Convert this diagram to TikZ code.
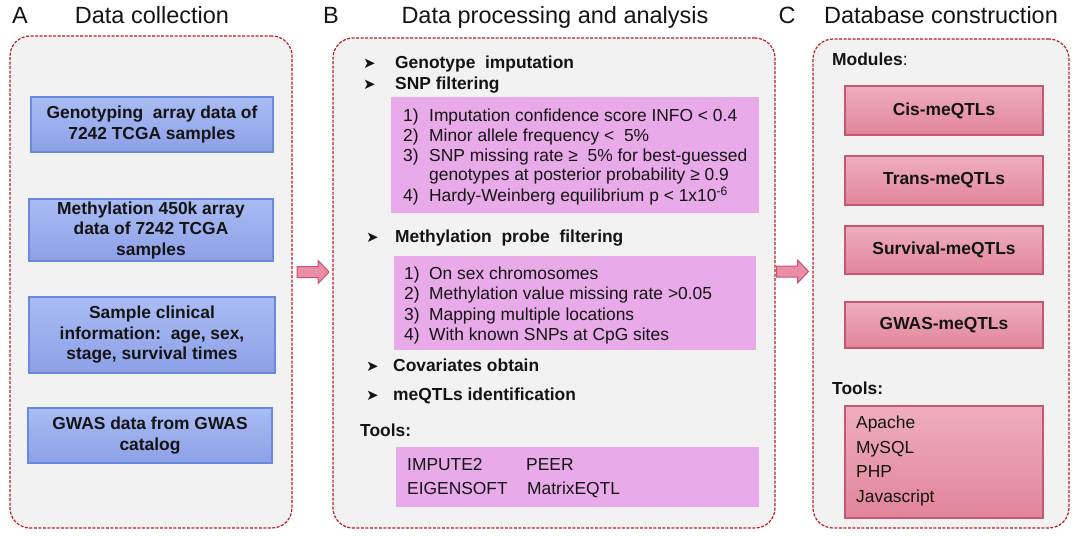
\documentclass[tikz,border=0pt]{standalone}
\usepackage{fontspec}
\setmainfont{Liberation Sans}
\newfontfamily\dvsans{DejaVu Sans}
\definecolor{panelfill}{RGB}{242,242,242}
\definecolor{paneldraw}{RGB}{185,30,40}
\definecolor{bluetop}{RGB}{170,188,243}
\definecolor{bluebot}{RGB}{140,160,232}
\definecolor{blueline}{RGB}{105,138,220}
\definecolor{orchid}{RGB}{232,170,232}
\definecolor{modtop}{RGB}{238,174,190}
\definecolor{modbot}{RGB}{226,132,154}
\definecolor{modline}{RGB}{196,88,116}
\definecolor{arrfill}{RGB}{234,142,166}
\definecolor{arrline}{RGB}{200,80,110}
\definecolor{txtc}{RGB}{20,20,20}
\newcommand\bodyfont{\fontsize{17.4}{20.5}\selectfont}
\newcommand\titlefont{\fontsize{23.5}{28}\selectfont}
\begin{document}
\begin{tikzpicture}[x=1pt,y=-1pt,
  panel/.style={draw=paneldraw, fill=panelfill, line width=1.2pt, dash pattern=on 3pt off 1.5pt, rounded corners=20pt, inner sep=0},
  bluebox/.style={draw=blueline, line width=1.5pt, top color=bluetop, bottom color=bluebot, inner sep=0, align=center, font=\bodyfont\bfseries, text=txtc},
  pinkbox/.style={fill=orchid, inner sep=0},
  modbox/.style={draw=modline, line width=1.2pt, top color=modtop, bottom color=modbot, inner sep=0, font=\bodyfont\bfseries, text=txtc, minimum width=198pt},
  lbl/.style={inner sep=0, anchor=west, text height=12.5pt, text depth=3.5pt, font=\bodyfont, text=txtc},
  head/.style={lbl, font=\bodyfont\bfseries},
  bul/.style={inner sep=0, anchor=west, font=\dvsans\fontsize{15}{17}\selectfont, text=txtc},
  ttl/.style={inner sep=0, anchor=base, font=\titlefont, text=txtc},
  lst/.style={inner sep=0, anchor=west, text=txtc},
  blockarr/.style={draw=arrline, fill=arrfill, line width=1pt, line join=miter}
]
\useasboundingbox (0,0) rectangle (1080,536);

% titles
\node[ttl] (tA) at (20,23) {A};
\node[ttl] (tAt) at (152,23) {Data collection};
\node[ttl] (tB) at (331,23) {B};
\node[ttl] (tBt) at (555,23) {Data processing and analysis};
\node[ttl] (tC) at (787,23) {C};
\node[ttl] (tCt) at (941,23) {Database construction};

% panels
\node[panel, minimum width=282pt, minimum height=492pt] (pA) at (151,282) {};
\node[panel, minimum width=442pt, minimum height=490pt] (pB) at (554,283) {};
\node[panel, minimum width=256pt, minimum height=489pt] (pC) at (941,283.5) {};

% block arrows between panels
\coordinate (ar1) at (313,272);
\coordinate (ar2) at (792.5,271.5);
\foreach \c in {ar1,ar2}
  \draw[blockarr, shift={(\c)}] (-16,-5.5) -- (5,-5.5) -- (5,-11.5) -- (16,0) -- (5,11.5) -- (5,5.5) -- (-16,5.5) -- cycle;

% panel A
\node[bluebox, minimum width=242pt, minimum height=55pt] (a1) at (152,124.5) {Genotyping\ \ array data of\\7242 TCGA samples};
\node[bluebox, minimum width=244pt, minimum height=62pt] (a2) at (151,230) {Methylation 450k array\\data of 7242 TCGA\\samples};
\node[bluebox, minimum width=246pt, minimum height=76pt] (a3) at (152,335) {Sample clinical\\information:\ \ age, sex,\\stage, survival times};
\node[bluebox, minimum width=244pt, minimum height=55pt] (a4) at (150,435.5) {GWAS data from GWAS\\catalog};

% panel B
\node[bul] (b1) at (363,64) {➤};
\node[head] (h1) at (395,64) {Genotype\ \ imputation};
\node[bul] (b2) at (363,85) {➤};
\node[head] (h2) at (395,85) {SNP filtering};

\node[pinkbox, minimum width=368pt, minimum height=116pt] (p1) at (575,155) {};
\node[lst, font=\fontsize{17.4}{19.8}\selectfont] (l1) at (403,157.5) {\begin{tabular}{@{}l@{\hspace{10.5pt}}l@{}}
1) & Imputation confidence score INFO < 0.4\\
2) & Minor allele frequency <\ \ 5\%\\
3) & SNP missing rate ≥\ \ 5\% for best-guessed\\
   & genotypes at posterior probability ≥ 0.9\\
4) & Hardy-Weinberg equilibrium p < 1x10\textsuperscript{-6}
\end{tabular}};

\node[bul] (b3) at (366,238) {➤};
\node[head] (h3) at (395,238) {Methylation\ \ probe\ \ filtering};

\node[pinkbox, minimum width=362pt, minimum height=94pt] (p2) at (575,303) {};
\node[lst, font=\fontsize{17.4}{20.5}\selectfont] (l2) at (404,306) {\begin{tabular}{@{}l@{\hspace{9.5pt}}l@{}}
1) & On sex chromosomes\\
2) & Methylation value missing rate >0.05\\
3) & Mapping multiple locations\\
4) & With known SNPs at CpG sites
\end{tabular}};

\node[bul] (b4) at (366,367) {➤};
\node[head] (h4) at (393,367) {Covariates obtain};
\node[bul] (b5) at (366,396) {➤};
\node[head] (h5) at (393,396) {meQTLs identification};

\node[head] (tb) at (360,432) {Tools:};
\node[pinkbox, minimum width=363pt, minimum height=60pt] (p3) at (577.5,477) {};
\node[lbl] (t1) at (407,466) {IMPUTE2};
\node[lbl] (t2) at (526,466) {PEER};
\node[lbl] (t3) at (407,490) {EIGENSOFT};
\node[lbl] (t4) at (527,490) {MatrixEQTL};

% panel C
\node[lbl] (mc) at (832,61) {\textbf{Modules}:};
\node[modbox, minimum height=49pt] (m1) at (944,110.5) {Cis-meQTLs};
\node[modbox, minimum height=49pt] (m2) at (944,180.5) {Trans-meQTLs};
\node[modbox, minimum height=48pt] (m3) at (944,250) {Survival-meQTLs};
\node[modbox, minimum height=46pt] (m4) at (944,325) {GWAS-meQTLs};
\node[head] (tc) at (832,390) {Tools:};
\node[modbox, minimum height=112pt] (tbox) at (944,462) {};
\node[lbl] (c1) at (856,424) {Apache};
\node[lbl] (c2) at (856,449) {MySQL};
\node[lbl] (c3) at (856,473) {PHP};
\node[lbl] (c4) at (856,498) {Javascript};
\end{tikzpicture}
\end{document}
